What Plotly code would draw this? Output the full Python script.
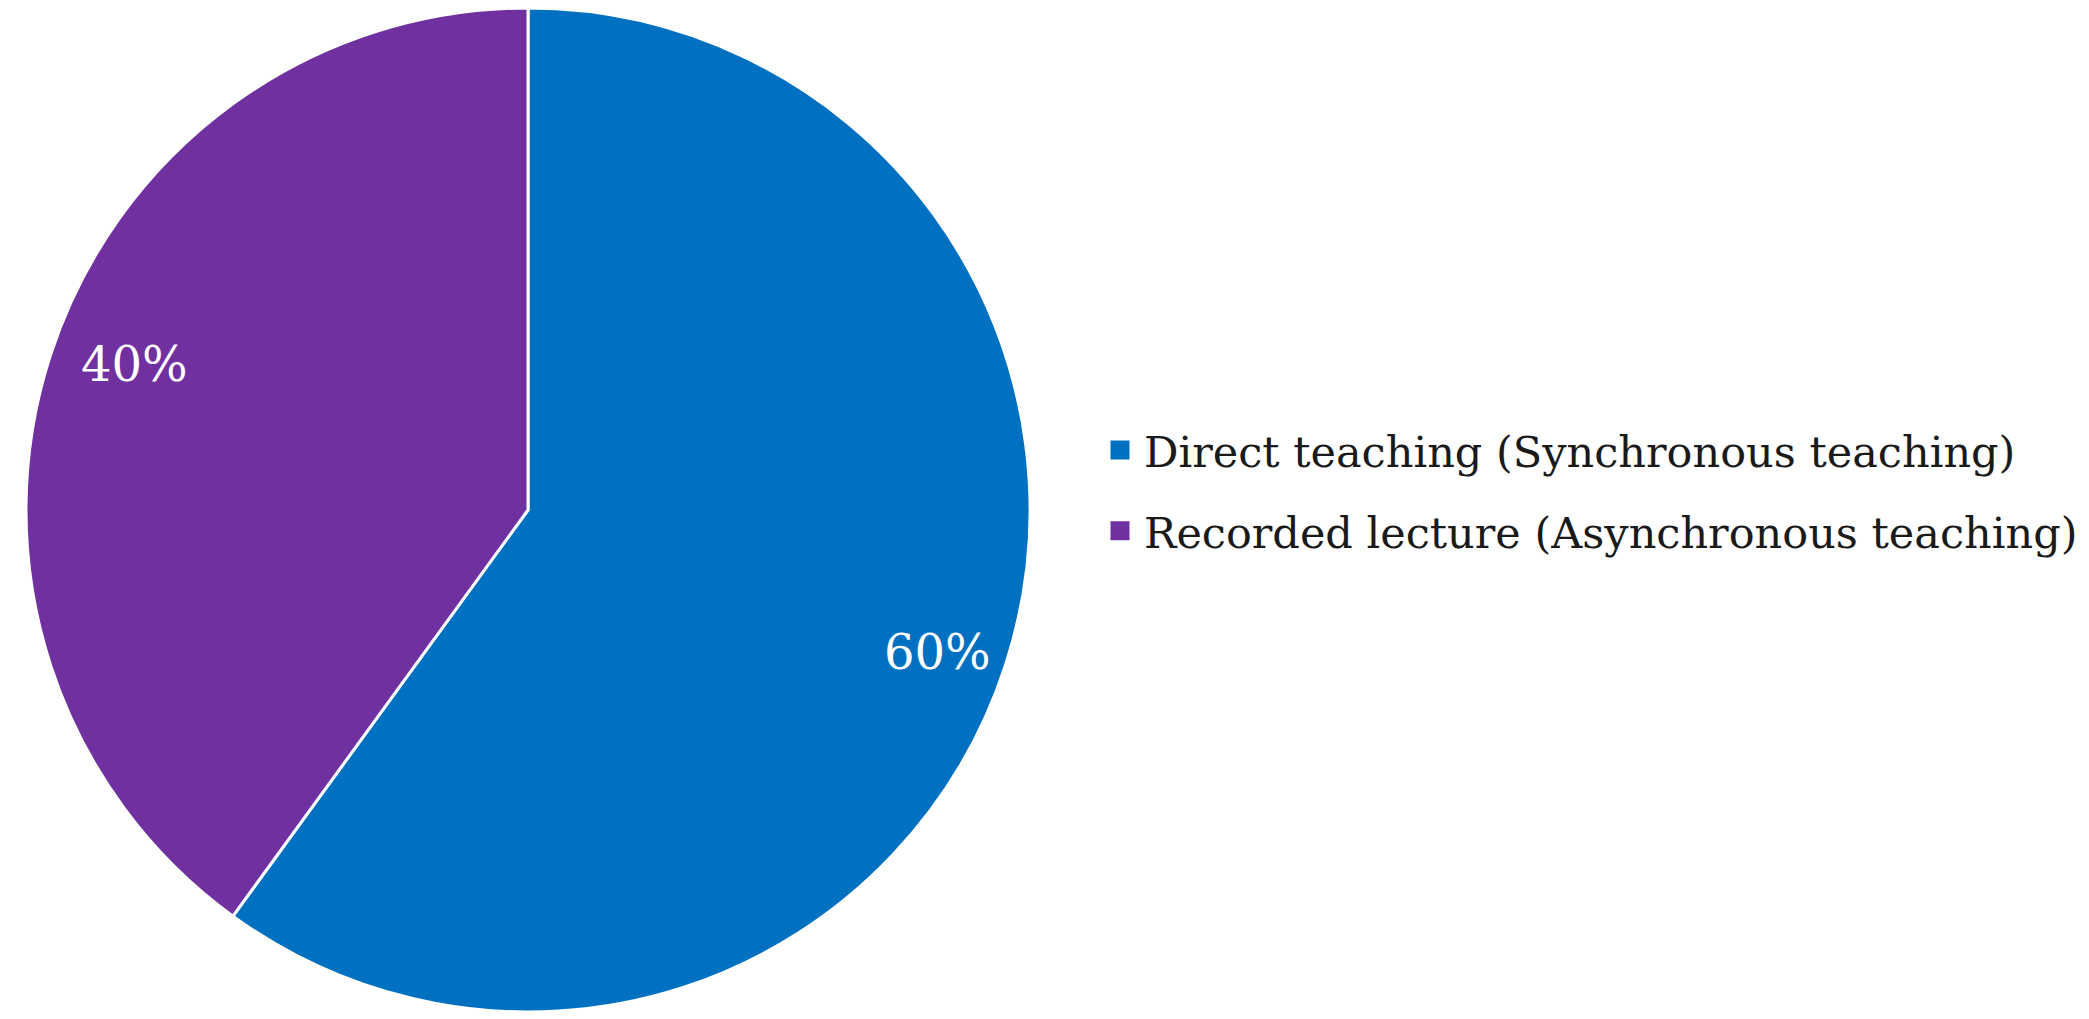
import math
import plotly.graph_objects as go

# teaching modes and share of respondents (%)
labels = ["Direct teaching (Synchronous teaching)", "Recorded lecture (Asynchronous teaching)"]
values = [60, 40]
colors = ["#0070C0", "#7030A0"]

W, H = 2089, 1019
FONT = "DejaVu Serif"

# where the pie should end up, in pixels from the top-left
cx, cy, R = 528, 509, 500
# plotly draws the pie a few px off the domain centre; compensate
dx, dy, dr = -8, -7, 2
x0, y0, r0 = cx + dx, cy + dy, R + dr

fig = go.Figure()

fig.add_trace(go.Pie(
    labels=labels,
    values=values,
    sort=False,
    direction="clockwise",
    rotation=0,
    marker=dict(colors=colors, line=dict(color="white", width=3)),
    textinfo="none",
    hoverinfo="label+percent",
    showlegend=False,
    domain=dict(x=[(x0 - r0) / W, (x0 + r0) / W], y=[(H - y0 - r0) / H, (H - y0 + r0) / H]),
))

# percentage labels near the outer edge of each slice ("inside end")
total = sum(values)
start = 0.0
for v in values:
    mid = (start + v / 2) / total * 2 * math.pi  # clockwise from 12 o'clock
    start += v
    lx = cx + 0.845 * R * math.sin(mid)
    ly = cy - 0.93 * R * math.cos(mid) - 9  # text sits a little low in plotly
    fig.add_annotation(
        x=lx / W, y=1 - ly / H, xref="paper", yref="paper",
        xanchor="center", yanchor="middle",
        text=f"{v}%", showarrow=False,
        font=dict(family=FONT, size=48, color="white"),
    )

# legend entries drawn as separate groups so the row gap matches the original
for i, (lab, col) in enumerate(zip(labels, colors)):
    fig.add_trace(go.Scatter(
        x=[None], y=[None], mode="markers", name=lab,
        marker=dict(symbol="square", size=22, color=col, line=dict(color=col, width=3)),
        legendgroup=f"g{i}", showlegend=True, hoverinfo="skip",
    ))

fig.update_layout(
    width=W, height=H,
    margin=dict(l=0, r=0, t=0, b=0),
    paper_bgcolor="white", plot_bgcolor="white",
    xaxis=dict(visible=False), yaxis=dict(visible=False),
    legend=dict(
        x=1088 / W, y=0.5265, xanchor="left", yanchor="middle",
        font=dict(family=FONT, size=43, color="#1a1a1a"),
        tracegroupgap=22, itemwidth=38,
        bgcolor="rgba(0,0,0,0)",
    ),
)

fig.write_html("out.html")
